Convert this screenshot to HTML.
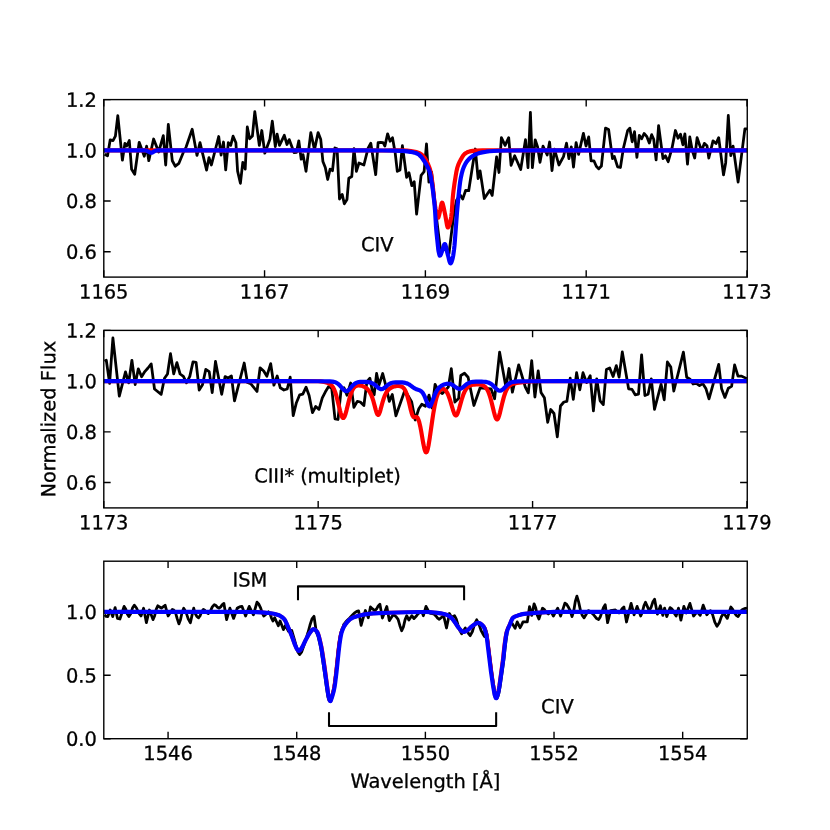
<!DOCTYPE html>
<html lang="en"><head><meta charset="utf-8"><title>Spectrum</title>
<style>html,body{margin:0;padding:0;background:#fff}body{width:830px;height:830px;overflow:hidden}</style></head>
<body>
<svg width="830" height="830" viewBox="0 0 830 830" style="display:block">
<rect width="830" height="830" fill="#fff"/>
<defs>
<clipPath id="c0"><rect x="103.75" y="99.60" width="643.25" height="177.50"/></clipPath>
<clipPath id="c1"><rect x="103.75" y="330.40" width="643.25" height="177.50"/></clipPath>
<clipPath id="c2"><rect x="103.75" y="561.20" width="643.25" height="177.50"/></clipPath>
</defs>
<path d="M103.75 277.10v-6.90M103.75 99.60v6.90M264.56 277.10v-6.90M264.56 99.60v6.90M425.38 277.10v-6.90M425.38 99.60v6.90M586.19 277.10v-6.90M586.19 99.60v6.90M747.00 277.10v-6.90M747.00 99.60v6.90M103.75 251.74h6.90M747.00 251.74h-6.90M103.75 201.03h6.90M747.00 201.03h-6.90M103.75 150.31h6.90M747.00 150.31h-6.90M103.75 99.60h6.90M747.00 99.60h-6.90" stroke="#000" stroke-width="1.39" fill="none"/>
<g clip-path="url(#c0)" fill="none" stroke-linejoin="round" stroke-linecap="butt">
<polyline points="104.6,154.2 107.5,155.9 110.2,139.8 113.0,140.6 115.4,136.1 117.8,115.7 122.4,160.2 124.9,143.4 126.7,146.0 129.3,140.5 131.6,169.3 134.7,174.3 139.2,142.3 144.3,156.2 146.6,146.2 148.8,160.7 153.6,139.0 158.7,152.0 163.3,135.7 165.7,165.0 168.3,124.5 172.3,160.8 175.3,166.2 178.9,163.3 183.1,153.0 186.1,147.0 192.2,129.3 197.0,155.4 200.0,142.6 206.6,170.1 209.0,157.6 211.4,165.0 218.7,136.5 221.1,155.0 223.5,142.0 225.7,169.8 228.3,142.6 230.7,145.4 233.1,136.2 235.9,142.8 237.6,171.1 240.4,183.3 242.8,162.4 245.2,169.1 247.3,126.9 249.6,138.8 252.4,136.1 254.8,111.6 259.3,145.4 261.8,130.5 264.8,153.2 269.9,139.2 272.3,121.2 275.3,146.6 277.1,134.1 279.5,145.4 284.3,135.3 287.0,144.5 289.2,139.6 294.0,152.6 296.4,152.4 298.8,140.8 301.2,159.2 303.0,154.6 306.0,171.3 310.8,132.6 314.5,149.6 318.1,132.6 320.7,139.2 322.9,161.4 325.3,167.5 327.7,179.5 330.1,169.1 332.5,170.7 334.9,148.0 337.1,148.8 339.5,199.0 342.2,194.4 344.3,203.8 347.0,199.4 348.8,178.3 351.8,176.5 354.0,148.6 356.4,171.3 359.0,163.0 363.9,165.0 368.1,148.2 370.8,143.2 375.7,174.7 378.1,142.6 380.7,142.4 383.1,142.6 384.9,146.0 387.6,133.8 390.1,141.2 392.5,137.7 395.2,153.0 397.3,171.3 400.0,169.9 402.4,145.6 406.6,177.3 409.0,172.7 411.8,185.7 414.2,181.7 416.6,214.2 421.1,175.3 424.1,171.7 426.5,143.8 428.9,182.1 431.6,172.1 437.0,222.0 440.6,251.0 444.6,248.6 449.0,253.5 453.9,213.0 456.6,200.1 460.2,195.1 462.7,199.1 465.7,190.3 468.7,190.7 472.3,167.5 475.3,149.0 478.1,178.5 480.1,170.9 484.3,198.5 489.8,190.2 492.2,195.4 496.6,157.0 499.0,172.5 501.4,137.7 505.1,145.4 508.7,137.7 511.1,165.3 514.7,155.8 520.7,169.5 525.5,139.6 528.0,167.7 530.4,112.4 532.4,167.7 535.2,139.8 537.6,147.0 540.0,162.3 543.0,146.2 547.2,155.0 549.6,142.0 552.0,170.7 554.5,149.2 558.9,165.0 563.5,156.6 566.5,143.2 568.9,158.6 571.3,146.8 573.5,167.1 576.1,142.6 578.6,154.4 583.4,133.3 586.0,146.0 588.7,136.9 591.1,160.8 593.9,160.8 596.3,166.3 598.7,168.9 601.4,166.0 605.5,128.1 608.6,129.5 612.5,158.6 614.3,156.4 617.6,166.9 620.4,167.5 623.4,148.2 627.6,130.7 629.8,128.1 632.2,141.8 634.5,131.7 636.9,157.4 639.3,135.3 641.7,138.8 644.1,133.5 646.9,136.7 649.3,143.0 651.7,134.7 653.7,139.2 656.1,159.8 658.6,125.7 663.0,158.6 665.4,155.8 668.2,161.7 672.0,148.2 675.4,130.5 678.1,138.2 680.5,134.1 682.9,144.8 684.9,133.8 687.5,164.1 689.8,136.9 692.3,150.6 694.7,158.0 697.1,137.7 701.6,150.8 704.3,143.4 707.0,145.8 708.8,158.0 713.0,140.8 716.0,143.6 718.7,137.7 723.5,174.9 725.7,162.7 728.3,115.5 730.8,155.6 733.1,146.2 738.1,182.1 744.9,128.9 747.0,128.9" stroke="#000" stroke-width="2.78"/>
<polyline points="103.75,150.30 315.25,150.31 366.50,150.39 383.75,150.48 391.25,150.31 396.00,150.30 402.00,150.41 407.00,150.61 411.00,151.03 415.00,151.70 416.25,152.02 417.50,152.43 420.00,153.50 421.25,154.29 422.50,155.39 424.25,157.30 425.25,158.75 426.50,161.00 428.25,164.66 429.25,167.19 430.00,169.50 430.75,172.33 431.25,174.96 432.00,180.01 432.75,185.80 434.00,198.06 434.75,203.84 435.50,208.62 436.00,211.22 437.25,216.14 437.75,217.40 438.00,217.67 438.25,217.62 438.50,217.18 439.00,215.46 440.25,209.93 441.00,206.01 441.50,203.77 441.75,203.04 442.00,202.71 442.25,202.80 442.50,203.16 442.75,203.77 443.50,206.68 445.25,215.16 447.00,225.22 447.50,227.00 447.75,227.43 448.00,227.48 448.25,227.30 448.75,226.42 449.25,225.07 450.00,222.67 450.75,219.57 451.25,216.59 451.75,212.47 452.50,201.06 453.00,195.34 453.50,190.77 454.50,183.36 455.75,175.48 456.50,171.17 457.25,167.93 458.25,164.94 459.50,162.04 460.50,160.12 462.00,157.46 462.75,156.23 463.50,155.14 464.50,154.04 466.00,153.01 467.00,152.45 468.00,151.97 469.75,151.38 472.75,150.90 476.50,150.56 482.50,150.38 488.75,150.30 512.25,150.30 522.75,150.38 557.25,150.30 747.00,150.30" stroke="#f00" stroke-width="4.17"/>
<polyline points="103.75,150.30 141.25,150.30 144.25,150.35 145.50,150.48 146.75,150.79 147.75,151.23 150.00,152.44 150.75,152.66 151.25,152.70 151.75,152.64 152.50,152.40 154.75,151.18 156.00,150.68 157.50,150.40 159.75,150.31 317.00,150.31 363.75,150.38 381.75,150.47 394.75,150.65 400.25,150.81 402.50,150.94 407.25,151.41 410.25,151.81 413.50,152.42 415.75,153.03 417.50,153.74 418.25,154.20 419.25,154.96 420.75,156.35 421.50,157.23 422.50,158.56 424.50,161.50 425.50,163.09 426.50,164.85 427.75,167.24 428.50,168.78 429.00,169.98 429.50,171.39 430.00,173.16 430.50,175.43 431.00,178.11 432.00,184.25 432.75,189.32 433.75,197.45 434.50,204.39 435.00,210.00 436.00,226.70 436.50,232.51 438.25,249.39 438.50,251.00 439.25,254.40 439.50,255.17 439.75,255.62 440.00,255.68 440.25,255.50 440.50,255.15 441.00,254.07 442.50,249.98 444.00,245.16 444.25,244.58 444.50,244.18 444.75,244.01 445.00,244.10 445.25,244.49 445.75,245.97 447.25,252.58 448.00,255.37 449.25,260.52 449.75,262.14 450.00,262.74 450.25,263.17 450.50,263.38 450.75,263.36 451.00,263.12 451.50,262.12 452.00,260.61 452.75,257.92 453.25,255.35 454.00,250.04 454.50,245.46 454.75,242.48 457.00,212.29 458.25,198.57 459.50,187.07 460.25,181.05 460.75,178.11 461.75,173.50 462.75,169.93 463.25,168.49 464.00,166.65 464.75,165.03 465.50,163.60 466.25,162.36 467.00,161.30 468.00,160.11 469.25,158.79 470.50,157.63 471.75,156.63 472.75,155.94 474.00,155.21 475.50,154.47 477.00,153.86 479.50,153.04 482.25,152.37 486.25,151.69 489.50,151.28 493.75,150.97 498.25,150.75 512.00,150.47 527.25,150.37 554.75,150.30 747.00,150.30" stroke="#00f" stroke-width="4.17"/>
</g>
<rect x="103.80" y="99.60" width="643.45" height="177.50" fill="none" stroke="#000" stroke-width="1.39"/>
<g font-family="DejaVu Sans, Liberation Sans, sans-serif" font-size="19.44" stroke="#000" stroke-width="0.3" fill="#000">
<text transform="translate(103.75,298.50) rotate(0.03)" text-anchor="middle">1165</text>
<text transform="translate(264.56,298.50) rotate(0.03)" text-anchor="middle">1167</text>
<text transform="translate(425.38,298.50) rotate(0.03)" text-anchor="middle">1169</text>
<text transform="translate(586.19,298.50) rotate(0.03)" text-anchor="middle">1171</text>
<text transform="translate(747.00,298.50) rotate(0.03)" text-anchor="middle">1173</text>
<text transform="translate(96.85,258.84) rotate(0.03)" text-anchor="end">0.6</text>
<text transform="translate(96.85,208.13) rotate(0.03)" text-anchor="end">0.8</text>
<text transform="translate(96.85,157.41) rotate(0.03)" text-anchor="end">1.0</text>
<text transform="translate(96.85,106.70) rotate(0.03)" text-anchor="end">1.2</text>
</g>
<path d="M103.75 507.90v-6.90M103.75 330.40v6.90M318.17 507.90v-6.90M318.17 330.40v6.90M532.58 507.90v-6.90M532.58 330.40v6.90M747.00 507.90v-6.90M747.00 330.40v6.90M103.75 482.54h6.90M747.00 482.54h-6.90M103.75 431.83h6.90M747.00 431.83h-6.90M103.75 381.11h6.90M747.00 381.11h-6.90M103.75 330.40h6.90M747.00 330.40h-6.90" stroke="#000" stroke-width="1.39" fill="none"/>
<g clip-path="url(#c1)" fill="none" stroke-linejoin="round" stroke-linecap="butt">
<polyline points="104.6,361.3 106.3,360.3 109.6,383.4 112.9,338.0 119.3,396.1 125.5,371.8 128.7,382.8 131.9,360.3 135.2,384.6 138.3,368.8 141.6,376.8 144.8,371.6 148.0,368.0 151.2,363.9 154.5,389.0 161.2,394.3 164.5,378.2 167.5,374.0 170.5,353.7 173.7,373.8 176.9,362.7 180.1,374.0 183.4,376.4 186.5,382.8 189.8,376.4 193.0,361.9 196.1,362.3 199.2,390.0 202.5,384.8 205.8,369.4 209.2,371.6 212.2,392.5 215.5,361.5 221.7,394.3 225.1,376.6 228.1,378.0 231.4,376.0 234.5,400.9 244.2,363.0 247.4,382.4 250.7,383.6 257.0,391.5 260.1,367.8 263.7,371.0 266.9,376.2 270.7,363.7 273.9,385.2 277.2,376.0 280.3,387.8 283.9,390.0 287.2,389.0 290.2,377.2 293.2,415.7 296.4,402.7 299.7,394.8 302.8,394.2 306.1,387.2 309.1,395.4 312.5,412.7 315.7,406.5 319.0,409.4 322.3,397.8 325.4,391.8 328.6,386.6 331.7,388.2 335.0,418.9 338.0,419.5 341.0,390.6 344.0,387.8 347.0,395.2 350.7,383.0 353.9,407.3 357.3,401.4 360.3,402.0 363.9,405.5 366.9,381.6 369.9,378.2 372.4,391.3 374.2,394.7 376.6,373.5 379.0,385.1 382.7,373.5 386.3,387.7 389.3,401.4 392.3,394.5 395.9,415.8 404.9,390.3 411.6,401.6 415.2,420.0 418.8,408.8 421.8,404.2 425.4,406.2 429.0,395.1 432.0,408.0 435.1,384.3 438.7,391.3 442.3,393.5 448.3,387.1 451.3,368.6 454.9,402.0 458.6,398.6 460.8,375.5 464.5,373.3 468.1,377.3 473.9,405.5 480.1,387.8 491.0,388.8 494.6,398.8 499.6,352.2 506.0,387.4 509.0,368.5 512.4,392.2 518.7,364.9 525.3,387.0 528.3,392.8 531.7,360.7 534.9,397.0 538.2,370.9 541.0,392.4 544.4,397.8 547.7,422.3 550.7,409.5 554.0,413.5 557.3,436.8 560.5,406.0 563.9,402.0 566.9,401.4 570.2,378.2 573.3,399.4 576.6,372.7 579.8,389.8 583.0,372.7 586.6,382.6 590.2,375.7 593.4,410.9 596.7,378.8 600.1,400.8 603.3,404.6 606.4,369.5 609.7,367.9 613.1,376.5 616.3,365.7 619.1,377.1 622.3,352.0 628.6,388.8 632.0,389.4 635.2,394.8 638.5,394.2 641.6,354.9 644.9,395.5 648.1,394.2 651.3,378.8 654.5,409.4 661.1,384.2 664.2,399.8 667.4,361.9 670.8,367.1 673.8,391.0 683.4,352.2 686.7,377.3 690.1,379.2 693.1,384.0 696.3,383.4 699.5,385.6 702.7,383.6 706.0,388.8 709.0,398.8 718.7,364.3 721.6,388.8 724.9,397.4 728.3,388.2 731.6,386.4 734.6,364.9 738.0,376.1 741.2,376.1 746.9,378.6" stroke="#000" stroke-width="2.78"/>
<polyline points="103.75,381.11 300.75,381.19 318.25,381.26 320.25,381.35 322.25,381.59 324.25,381.97 326.25,382.49 328.00,383.11 329.50,383.83 330.50,384.46 331.50,385.32 332.50,386.53 333.25,387.72 334.00,389.18 334.75,390.96 335.50,393.06 336.25,395.48 337.50,400.17 340.00,410.56 340.75,413.35 341.25,414.94 341.75,416.25 342.25,417.22 342.75,417.81 343.00,417.96 343.25,417.99 343.50,417.92 343.75,417.75 344.25,417.10 344.75,416.07 345.50,413.95 346.50,410.35 349.50,398.35 350.50,394.98 351.50,392.17 352.50,389.95 353.50,388.28 354.50,387.09 355.00,386.64 355.75,386.14 356.50,385.79 357.25,385.57 358.00,385.45 358.75,385.41 360.50,385.56 361.50,385.77 362.50,386.06 364.25,386.79 365.75,387.68 367.25,388.92 368.50,390.30 369.50,391.71 370.25,392.99 371.00,394.50 371.75,396.26 372.50,398.31 373.50,401.49 375.75,409.85 376.50,412.32 377.25,414.09 377.75,414.72 378.00,414.85 378.25,414.84 378.50,414.70 378.75,414.44 379.25,413.56 379.75,412.27 380.50,409.80 382.75,401.52 383.75,398.38 384.50,396.37 385.25,394.65 386.00,393.18 386.75,391.93 387.50,390.88 388.75,389.48 390.00,388.42 391.50,387.49 393.00,386.83 394.75,386.33 396.75,386.03 398.50,385.99 400.25,386.21 401.25,386.51 402.00,386.85 402.75,387.35 403.50,388.03 404.25,388.94 404.75,389.69 405.50,391.10 406.00,392.23 407.00,394.98 408.00,398.38 409.00,402.32 410.75,409.69 411.50,412.52 412.25,414.80 412.75,415.92 413.25,416.68 413.50,416.94 414.00,417.22 414.50,417.27 416.00,416.93 416.50,416.98 417.00,417.24 417.50,417.77 417.75,418.15 418.50,419.77 419.25,422.15 420.25,426.43 421.25,431.73 423.25,443.29 424.25,448.16 424.75,450.02 425.25,451.38 425.50,451.85 425.75,452.17 426.00,452.33 426.25,452.34 426.50,452.18 426.75,451.87 427.25,450.77 427.75,449.10 428.50,445.63 429.75,438.00 432.25,420.34 433.25,413.74 434.50,406.52 435.75,400.67 436.25,398.72 437.00,396.20 437.75,394.13 438.50,392.48 439.25,391.19 439.75,390.52 440.25,389.97 441.00,389.38 441.50,389.11 442.00,388.95 442.75,388.88 443.50,389.01 444.25,389.35 444.75,389.70 445.50,390.40 446.00,391.00 446.75,392.10 447.25,392.98 448.25,395.09 449.50,398.39 450.75,402.34 453.00,410.04 454.00,412.93 454.50,414.05 455.00,414.87 455.50,415.34 455.75,415.44 456.00,415.43 456.25,415.34 456.50,415.14 457.00,414.48 457.50,413.48 458.00,412.21 459.00,409.06 462.00,398.54 463.00,395.54 463.75,393.57 464.50,391.86 465.50,389.97 466.25,388.81 467.25,387.59 468.50,386.47 469.25,385.98 470.00,385.59 470.75,385.28 471.75,384.97 474.00,384.55 476.75,384.39 478.25,384.43 479.50,384.53 480.75,384.73 481.75,384.97 482.75,385.33 483.50,385.69 484.25,386.16 485.00,386.76 485.75,387.53 486.25,388.15 487.00,389.26 487.50,390.15 488.25,391.70 488.75,392.90 489.75,395.72 491.00,399.98 494.00,412.23 495.00,415.87 495.50,417.32 496.00,418.44 496.50,419.16 496.75,419.35 497.00,419.43 497.25,419.40 497.50,419.25 498.00,418.61 498.50,417.56 499.00,416.15 500.00,412.57 502.50,402.11 503.75,397.40 504.50,394.94 505.25,392.79 506.00,390.95 506.75,389.40 507.50,388.11 508.50,386.75 509.50,385.74 510.50,384.98 511.75,384.30 513.00,383.82 514.75,383.35 516.75,382.98 519.00,382.68 523.25,382.27 529.50,381.53 532.25,381.32 534.75,381.24 591.50,381.14 747.00,381.11" stroke="#f00" stroke-width="4.17"/>
<polyline points="103.75,381.11 288.25,381.17 317.75,381.25 329.75,381.41 332.25,381.59 334.00,381.87 335.50,382.33 337.00,383.07 338.25,383.97 339.50,385.13 342.75,388.87 344.00,390.14 344.75,390.71 345.25,390.97 345.75,391.14 346.25,391.20 346.75,391.14 347.25,390.98 347.75,390.72 348.50,390.16 349.75,388.91 352.75,385.48 353.75,384.51 354.75,383.70 355.75,383.07 356.75,382.60 357.75,382.26 359.00,381.99 360.25,381.84 361.75,381.76 365.50,381.82 368.50,382.11 369.75,382.35 370.75,382.63 372.50,383.34 374.00,384.23 375.25,385.16 378.00,387.53 379.25,388.47 380.25,388.99 380.75,389.14 381.25,389.20 381.75,389.16 382.25,389.05 383.25,388.58 384.25,387.88 387.00,385.57 388.25,384.63 389.75,383.73 391.50,383.00 393.50,382.53 395.75,382.30 398.75,382.26 402.00,382.40 403.75,382.60 405.25,382.88 406.50,383.24 407.75,383.75 408.75,384.27 409.75,384.89 413.25,387.46 414.75,388.43 416.50,389.26 419.75,390.40 420.75,390.96 421.50,391.55 422.25,392.34 423.00,393.35 423.75,394.61 424.25,395.60 425.25,397.89 427.25,403.14 428.00,404.82 428.50,405.66 428.75,405.97 429.25,406.32 429.50,406.37 429.75,406.32 430.25,405.94 430.50,405.62 431.00,404.75 431.75,403.01 434.00,396.75 435.25,393.70 436.00,392.14 436.75,390.79 437.50,389.63 438.25,388.63 439.00,387.78 440.00,386.84 441.00,386.07 442.25,385.31 443.50,384.72 444.75,384.27 446.25,383.91 447.50,383.74 448.50,383.72 449.50,383.81 450.50,384.04 451.50,384.40 452.25,384.76 453.25,385.36 456.25,387.56 457.50,388.35 458.25,388.68 458.75,388.82 459.75,388.89 460.75,388.67 461.75,388.17 463.00,387.27 465.75,384.91 467.25,383.79 468.75,382.94 470.50,382.29 471.50,382.06 472.75,381.87 476.00,381.67 481.75,381.65 483.75,381.73 485.50,381.89 487.00,382.14 488.25,382.49 489.50,383.00 490.50,383.55 491.50,384.22 492.75,385.25 496.25,388.71 497.50,389.78 498.25,390.26 498.75,390.50 499.50,390.70 500.00,390.72 500.50,390.66 501.00,390.51 501.50,390.28 502.25,389.80 503.50,388.73 506.25,385.95 507.50,384.79 509.00,383.64 510.25,382.92 511.75,382.30 513.50,381.85 515.50,381.59 518.00,381.43 530.75,381.26 560.50,381.17 747.00,381.11" stroke="#00f" stroke-width="4.17"/>
</g>
<rect x="103.80" y="330.40" width="643.45" height="177.50" fill="none" stroke="#000" stroke-width="1.39"/>
<g font-family="DejaVu Sans, Liberation Sans, sans-serif" font-size="19.44" stroke="#000" stroke-width="0.3" fill="#000">
<text transform="translate(103.75,529.30) rotate(0.03)" text-anchor="middle">1173</text>
<text transform="translate(318.17,529.30) rotate(0.03)" text-anchor="middle">1175</text>
<text transform="translate(532.58,529.30) rotate(0.03)" text-anchor="middle">1177</text>
<text transform="translate(747.00,529.30) rotate(0.03)" text-anchor="middle">1179</text>
<text transform="translate(96.85,489.64) rotate(0.03)" text-anchor="end">0.6</text>
<text transform="translate(96.85,438.93) rotate(0.03)" text-anchor="end">0.8</text>
<text transform="translate(96.85,388.21) rotate(0.03)" text-anchor="end">1.0</text>
<text transform="translate(96.85,337.50) rotate(0.03)" text-anchor="end">1.2</text>
</g>
<path d="M168.07 738.70v-6.90M168.07 561.20v6.90M296.73 738.70v-6.90M296.73 561.20v6.90M425.38 738.70v-6.90M425.38 561.20v6.90M554.02 738.70v-6.90M554.02 561.20v6.90M682.68 738.70v-6.90M682.68 561.20v6.90M103.75 738.70h6.90M747.00 738.70h-6.90M103.75 675.31h6.90M747.00 675.31h-6.90M103.75 611.91h6.90M747.00 611.91h-6.90" stroke="#000" stroke-width="1.39" fill="none"/>
<g clip-path="url(#c2)" fill="none" stroke-linejoin="round" stroke-linecap="butt">
<polyline points="104.6,614.8 106.2,616.4 107.8,616.6 110.2,610.0 112.7,616.6 115.1,607.6 117.5,618.4 119.9,619.0 122.0,612.7 124.1,606.4 125.7,609.0 127.3,614.0 128.9,616.6 130.7,613.7 132.5,608.1 134.3,605.2 136.5,608.0 138.8,613.2 141.0,616.0 143.6,608.2 146.4,622.7 147.9,616.3 149.4,610.0 151.2,614.8 153.0,619.6 154.6,616.0 156.2,609.4 157.8,605.8 159.6,607.0 161.4,608.2 163.3,606.7 165.1,605.2 166.6,610.6 168.1,616.0 170.2,612.7 172.3,609.4 173.8,610.1 175.3,611.8 177.1,618.4 178.9,623.9 180.5,619.8 182.1,612.3 183.7,608.2 185.9,611.9 188.2,618.9 190.4,622.7 192.0,615.4 193.7,608.2 195.0,613.0 196.8,616.4 198.6,617.8 200.2,615.6 201.8,611.6 203.4,609.4 205.0,610.5 206.6,612.5 208.3,613.6 210.3,611.3 212.3,606.9 214.3,604.6 215.9,605.5 217.5,607.3 219.1,608.2 220.7,606.9 222.3,604.6 223.9,603.4 226.6,619.6 228.3,613.9 229.9,608.2 231.7,613.3 233.6,618.4 235.4,613.6 237.2,608.2 238.8,607.2 240.4,606.6 242.0,606.4 243.8,611.2 245.6,616.0 247.4,611.2 249.2,606.4 251.3,610.6 253.4,614.8 255.2,608.5 257.0,602.2 258.9,604.3 260.7,608.2 262.2,612.9 263.7,616.0 265.3,614.9 266.9,612.9 268.5,611.8 270.0,613.5 271.4,617.8 272.9,621.0 274.7,617.7 276.5,621.7 278.3,625.7 280.1,621.0 281.8,625.3 283.4,629.6 285.5,625.5 287.0,628.5 288.5,631.5 290.1,630.9 291.7,630.4 294.5,640.0 296.2,646.2 297.9,652.0 299.6,654.6 301.7,651.8 303.9,645.5 306.0,639.0 308.0,632.5 310.0,625.0 312.0,618.9 314.0,616.3 316.3,632.0 318.0,636.1 319.0,640.1 320.0,644.5 321.0,649.8 322.0,656.2 323.0,662.8 324.0,669.7 325.0,676.8 326.0,684.2 327.0,691.2 328.0,697.2 329.0,700.4 330.0,700.7 331.0,697.9 332.0,694.9 333.0,691.1 334.0,686.2 335.0,678.8 336.0,670.4 337.0,660.6 338.0,651.0 339.0,642.8 340.0,636.5 341.0,632.2 342.0,629.3 343.0,627.1 343.7,624.7 345.7,622.0 347.6,620.0 349.5,618.2 351.3,616.3 353.2,614.3 355.0,612.6 356.8,611.3 358.6,610.8 361.1,625.3 363.2,617.9 365.4,610.5 366.9,614.1 368.3,617.7 370.5,606.9 372.6,608.9 374.8,610.8 376.5,609.1 378.2,606.0 379.9,604.3 382.4,618.1 384.6,612.3 386.8,606.5 389.3,620.6 391.2,617.8 393.0,614.9 394.7,615.5 396.4,617.1 398.1,619.3 399.9,625.7 401.7,630.8 403.4,626.9 405.1,619.6 406.7,615.7 408.9,620.0 410.4,617.8 411.8,615.7 414.0,618.6 416.1,616.3 418.3,613.5 420.1,612.5 421.9,612.0 423.4,615.7 426.0,606.3 427.6,609.3 429.2,612.8 430.8,613.4 432.5,613.7 434.2,614.2 435.9,615.9 437.6,618.1 439.3,619.3 441.4,617.5 443.6,615.7 445.1,621.8 446.5,628.0 448.0,620.7 449.4,613.5 451.6,617.1 453.0,616.4 454.5,615.7 456.3,619.2 458.1,625.1 459.9,630.5 461.7,633.7 463.5,630.8 465.3,628.0 466.9,630.0 468.6,633.7 470.2,635.7 472.4,631.5 474.6,623.9 476.7,619.8 478.9,624.0 481.1,630.6 482.8,633.7 484.5,636.5 485.0,628.0 486.0,630.8 487.0,634.7 488.0,641.7 489.0,649.8 490.0,658.1 491.0,666.2 492.0,673.9 493.0,680.9 494.0,687.2 495.0,693.1 496.0,696.8 497.0,698.2 498.0,696.2 499.0,692.6 500.0,687.2 501.0,680.4 502.0,673.2 503.0,666.4 504.0,658.9 505.0,649.1 506.0,640.8 507.0,634.3 507.8,627.7 510.0,624.6 512.2,623.4 513.6,625.9 515.1,628.4 517.2,621.9 518.7,624.8 520.1,627.7 521.6,624.8 523.0,621.9 525.2,621.9 527.3,621.9 529.5,606.7 531.7,615.4 534.1,603.9 535.7,607.8 537.3,615.1 538.9,619.0 540.7,613.6 542.5,608.2 544.5,609.7 546.4,612.5 548.3,614.0 549.8,612.9 551.2,611.8 553.4,616.1 555.5,612.2 557.7,608.2 559.2,612.2 560.6,616.1 562.8,609.6 564.9,603.1 566.6,604.2 568.3,606.9 570.0,610.4 572.0,616.6 573.7,611.3 575.3,601.5 576.9,596.1 578.7,602.2 580.5,610.6 582.3,615.4 584.1,617.8 586.2,614.2 588.3,610.6 589.9,611.2 591.5,612.7 593.1,614.2 594.9,616.3 596.7,618.6 598.6,619.6 600.1,617.2 601.6,613.0 603.4,607.8 605.2,604.6 607.6,622.7 609.1,616.7 610.6,610.6 612.2,610.3 613.8,610.1 615.4,610.0 617.2,611.5 619.0,613.0 620.6,611.5 622.2,608.5 623.9,607.0 626.5,622.0 628.8,612.7 631.1,603.4 632.6,609.1 634.1,614.8 635.6,610.6 637.1,606.4 638.9,611.2 640.7,616.0 642.3,612.4 643.9,605.8 645.5,602.2 647.3,606.4 649.2,610.6 651.0,607.6 652.8,602.1 654.6,599.2 657.4,614.2 658.9,610.0 660.4,605.8 662.8,615.4 664.6,608.2 666.8,616.6 668.4,612.1 670.1,607.6 671.6,608.6 673.1,610.6 674.6,613.8 676.1,616.0 678.5,608.2 680.9,620.2 682.4,613.3 683.9,606.4 686.3,613.0 688.1,608.2 689.9,603.4 691.7,609.7 693.6,616.0 695.4,613.9 697.2,611.8 698.7,613.6 700.2,615.4 701.7,610.3 703.2,605.2 705.0,610.0 706.8,614.8 708.6,612.7 710.4,610.6 712.6,614.7 714.8,622.2 717.0,626.3 719.3,622.8 721.5,616.4 723.7,613.0 725.5,615.7 727.3,618.4 729.1,612.7 730.9,607.0 732.7,609.4 734.5,613.0 736.3,615.4 738.1,616.6 739.9,613.6 741.7,610.0 743.6,609.1 745.4,608.4 747.0,608.2" stroke="#000" stroke-width="2.78"/>
<polyline points="103.75,611.90 231.50,611.90 251.75,612.02 256.50,612.15 262.00,612.40 266.75,612.80 270.75,613.30 273.75,613.79 276.50,614.41 278.25,614.97 280.25,615.96 281.50,616.73 282.50,617.46 283.25,618.12 284.00,618.90 284.75,619.84 285.25,620.67 286.50,623.32 290.50,632.78 292.00,636.59 294.50,643.62 296.00,647.22 296.50,648.30 297.00,649.20 298.00,650.38 298.50,650.78 298.75,650.88 299.00,650.89 299.50,650.67 300.75,649.44 301.25,648.76 303.00,645.67 305.75,639.87 308.25,635.27 309.50,633.32 311.50,630.63 312.25,629.81 312.75,629.42 313.25,629.22 313.75,629.22 314.50,629.46 315.25,629.92 316.00,630.55 317.00,631.59 317.50,632.23 318.25,633.86 319.25,637.04 320.50,642.03 321.75,647.69 322.75,653.61 324.75,666.85 326.00,675.98 328.50,695.15 328.75,696.66 329.50,699.58 330.00,700.85 330.25,701.09 330.50,700.97 330.75,700.50 332.50,694.71 333.50,690.55 334.25,686.52 335.00,680.99 336.00,672.55 338.25,651.10 339.00,644.85 339.75,639.98 340.50,635.79 341.25,632.67 342.00,630.50 342.75,628.69 343.50,627.18 344.25,625.92 345.00,624.83 346.25,623.17 347.50,621.68 348.75,620.39 350.00,619.30 351.00,618.60 351.75,618.17 353.00,617.58 354.50,616.99 357.50,616.07 362.25,614.91 365.00,614.39 367.75,613.98 370.75,613.62 373.50,613.39 389.50,612.72 406.25,612.27 420.25,612.03 426.75,612.03 429.75,612.18 434.50,612.52 437.50,612.85 440.75,613.32 444.00,613.98 445.50,614.40 446.50,614.76 447.50,615.22 448.50,615.78 450.75,617.36 452.00,618.55 453.75,620.71 455.00,622.39 457.75,626.63 460.25,629.82 461.00,630.55 461.50,630.90 462.75,631.57 463.25,631.75 463.75,631.84 464.25,631.82 465.00,631.57 466.50,630.80 467.25,630.34 469.25,628.81 471.50,626.61 472.25,625.98 474.75,624.28 476.00,623.55 477.25,623.05 478.25,622.90 479.25,623.03 479.75,623.21 480.50,623.60 481.50,624.32 482.50,625.23 483.75,626.56 484.25,627.34 484.75,628.39 485.50,630.45 486.25,633.03 486.75,635.04 487.00,636.41 487.50,639.99 491.75,674.13 493.50,686.64 494.75,694.50 495.25,696.31 495.75,697.69 496.00,698.09 496.25,698.19 496.50,697.96 496.75,697.46 497.75,694.22 498.25,691.73 499.00,687.22 502.75,659.60 504.00,647.71 504.50,643.63 505.50,636.76 506.25,632.91 506.75,631.20 507.50,629.17 509.50,624.87 511.50,620.12 512.00,619.11 512.50,618.30 513.00,617.73 514.25,616.91 515.50,616.34 518.00,615.43 520.25,614.71 522.25,614.20 524.00,613.89 526.50,613.59 532.75,613.08 538.75,612.68 550.50,612.03 554.00,611.91 747.00,611.90" stroke="#f00" stroke-width="3.7"/>
<polyline points="103.75,611.90 231.50,611.90 251.75,612.02 256.50,612.15 262.00,612.40 266.75,612.80 270.75,613.30 273.75,613.79 276.50,614.41 278.25,614.97 280.25,615.96 281.50,616.73 282.50,617.46 283.25,618.12 284.00,618.90 284.75,619.84 285.25,620.67 286.50,623.32 290.50,632.78 292.00,636.59 294.50,643.62 296.00,647.22 296.50,648.30 297.00,649.20 298.00,650.38 298.50,650.78 298.75,650.88 299.00,650.89 299.50,650.67 300.75,649.44 301.25,648.76 303.00,645.67 305.75,639.87 308.00,635.69 309.50,633.30 311.25,630.92 312.00,630.02 312.50,629.56 313.00,629.28 313.50,629.20 314.25,629.38 315.00,629.81 315.75,630.44 316.75,631.51 317.25,632.15 318.00,633.83 319.00,637.21 320.00,641.40 321.25,647.23 322.00,651.67 324.00,664.82 327.00,686.35 328.25,694.90 328.75,697.42 329.25,699.10 329.75,700.47 330.00,700.90 330.25,701.09 330.50,700.99 330.75,700.61 331.00,700.01 332.50,695.52 333.50,691.96 334.50,687.34 335.25,682.36 336.50,672.18 338.75,650.50 339.50,644.20 340.25,639.20 341.00,634.98 341.50,632.84 342.50,629.85 343.00,628.62 343.75,627.05 344.50,625.76 345.50,624.29 346.75,622.64 348.00,621.19 349.25,619.95 350.25,619.12 351.00,618.60 352.00,618.05 353.25,617.47 354.75,616.90 357.75,616.00 362.25,614.91 365.00,614.39 367.75,613.98 370.75,613.62 373.50,613.39 389.50,612.72 406.25,612.27 420.25,612.03 426.75,612.03 429.75,612.18 434.50,612.52 437.50,612.85 440.75,613.32 444.00,613.98 445.50,614.40 446.50,614.76 447.50,615.22 448.50,615.78 450.75,617.36 452.00,618.55 453.75,620.71 455.00,622.39 457.75,626.63 460.25,629.82 461.00,630.55 461.50,630.90 462.75,631.57 463.25,631.75 463.75,631.84 464.25,631.82 465.00,631.57 466.50,630.80 467.25,630.34 469.25,628.81 471.50,626.61 472.25,625.98 474.75,624.27 476.00,623.54 477.25,623.05 478.25,622.90 478.75,622.93 479.25,623.05 480.25,623.50 481.25,624.21 482.25,625.14 483.50,626.52 484.00,627.33 484.50,628.45 485.00,629.85 485.50,631.52 486.25,634.48 486.50,635.72 487.00,639.26 491.00,671.68 492.75,683.81 494.50,694.15 494.75,695.14 495.50,697.27 495.75,697.79 496.00,698.11 496.25,698.19 496.50,698.01 497.00,697.03 498.00,693.95 498.75,690.33 499.50,686.00 503.00,661.29 503.50,657.06 504.50,647.17 505.25,641.19 506.00,636.03 506.50,633.33 506.75,632.31 507.25,630.64 508.00,628.63 509.50,625.30 511.50,620.35 512.00,619.28 512.50,618.41 513.00,617.79 514.25,616.93 515.50,616.35 518.25,615.35 520.50,614.64 522.50,614.15 524.25,613.85 526.75,613.57 533.00,613.06 539.00,612.66 550.50,612.03 554.00,611.91 747.00,611.90" stroke="#00f" stroke-width="4.17"/>
<g stroke="#000" stroke-width="2.08" stroke-linejoin="round" stroke-linecap="square">
<polyline points="298.0,599.1 298.0,586.4 464.1,586.4 464.1,599.1"/>
<polyline points="329.0,713.3 329.0,725.95 496.15,725.95 496.15,713.3"/>
</g>
</g>
<rect x="103.80" y="561.20" width="643.45" height="177.50" fill="none" stroke="#000" stroke-width="1.39"/>
<g font-family="DejaVu Sans, Liberation Sans, sans-serif" font-size="19.44" stroke="#000" stroke-width="0.3" fill="#000">
<text transform="translate(168.07,760.10) rotate(0.03)" text-anchor="middle">1546</text>
<text transform="translate(296.73,760.10) rotate(0.03)" text-anchor="middle">1548</text>
<text transform="translate(425.38,760.10) rotate(0.03)" text-anchor="middle">1550</text>
<text transform="translate(554.02,760.10) rotate(0.03)" text-anchor="middle">1552</text>
<text transform="translate(682.68,760.10) rotate(0.03)" text-anchor="middle">1554</text>
<text transform="translate(96.85,745.80) rotate(0.03)" text-anchor="end">0.0</text>
<text transform="translate(96.85,682.41) rotate(0.03)" text-anchor="end">0.5</text>
<text transform="translate(96.85,619.01) rotate(0.03)" text-anchor="end">1.0</text>
</g>
<g font-family="DejaVu Sans, Liberation Sans, sans-serif" font-size="19.44" stroke="#000" stroke-width="0.3" fill="#000">
<text transform="translate(361.0,251.2) rotate(0.03)">CIV</text>
<text transform="translate(254.3,482.4) rotate(0.03)" letter-spacing="-0.14">CIII* (multiplet)</text>
<text transform="translate(232.4,586.6) rotate(0.03)">ISM</text>
<text transform="translate(541.1,713.3) rotate(0.03)">CIV</text>
<text transform="translate(425.4,787.9) rotate(0.03)" text-anchor="middle">Wavelength [Å]</text>
<text transform="translate(55.3,419.2) rotate(-90.03)" text-anchor="middle">Normalized Flux</text>
</g>
</svg>
</body></html>
